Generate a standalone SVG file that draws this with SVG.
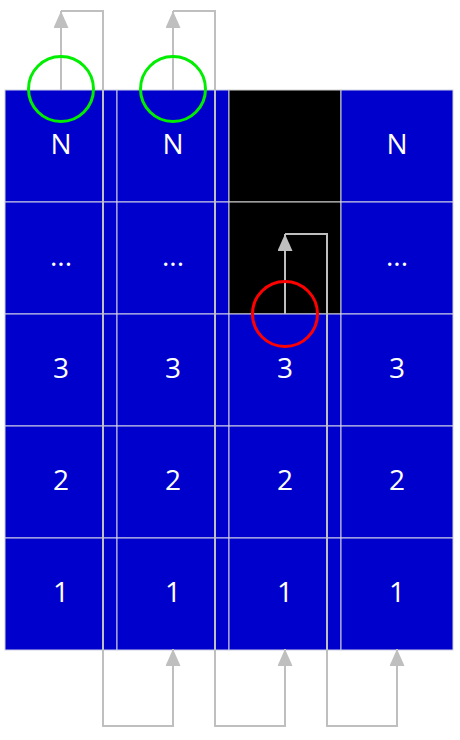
<svg xmlns="http://www.w3.org/2000/svg" width="460" height="740" viewBox="0 0 460 740">
<style>
.cell{fill:#0000CC;stroke:#D0D0E6;stroke-width:1}
.empty{fill:#000000;stroke:#D0D0D0;stroke-width:1}
.lbl{font-family:"Open Sans","Liberation Sans",sans-serif;font-size:28px;fill:#FFFFFF;text-anchor:middle}
.conn{fill:none;stroke:#BFBFBF;stroke-width:2}
.ok{fill:none;stroke:#00EE00;stroke-width:3}
.bad{fill:none;stroke:#FF0000;stroke-width:3}
</style>
<defs>
<marker id="arr" markerUnits="userSpaceOnUse" markerWidth="17" markerHeight="15" refX="17" refY="7.5" orient="auto">
<path d="M0,0 L17,7.5 L0,15 Z" fill="#BFBFBF"/>
</marker>
</defs>
<rect x="0" y="0" width="460" height="740" fill="#FFFFFF"/>
<g id="col1">
<g id="c1r5"><rect class="cell" x="5" y="90" width="112" height="112"/><text class="lbl" x="61" y="154">N</text></g>
<g id="c1r4"><rect class="cell" x="5" y="202" width="112" height="112"/><text class="lbl" x="61" y="266">...</text></g>
<g id="c1r3"><rect class="cell" x="5" y="314" width="112" height="112"/><text class="lbl" x="61" y="378">3</text></g>
<g id="c1r2"><rect class="cell" x="5" y="426" width="112" height="112"/><text class="lbl" x="61" y="490">2</text></g>
<g id="c1r1"><rect class="cell" x="5" y="538" width="112" height="112"/><text class="lbl" x="61" y="602">1</text></g>
</g>
<g id="col2">
<g id="c2r5"><rect class="cell" x="117" y="90" width="112" height="112"/><text class="lbl" x="173" y="154">N</text></g>
<g id="c2r4"><rect class="cell" x="117" y="202" width="112" height="112"/><text class="lbl" x="173" y="266">...</text></g>
<g id="c2r3"><rect class="cell" x="117" y="314" width="112" height="112"/><text class="lbl" x="173" y="378">3</text></g>
<g id="c2r2"><rect class="cell" x="117" y="426" width="112" height="112"/><text class="lbl" x="173" y="490">2</text></g>
<g id="c2r1"><rect class="cell" x="117" y="538" width="112" height="112"/><text class="lbl" x="173" y="602">1</text></g>
</g>
<g id="col3">
<g id="c3r5"><rect class="empty" x="229" y="90" width="112" height="112"/></g>
<g id="c3r4"><rect class="empty" x="229" y="202" width="112" height="112"/></g>
<g id="c3r3"><rect class="cell" x="229" y="314" width="112" height="112"/><text class="lbl" x="285" y="378">3</text></g>
<g id="c3r2"><rect class="cell" x="229" y="426" width="112" height="112"/><text class="lbl" x="285" y="490">2</text></g>
<g id="c3r1"><rect class="cell" x="229" y="538" width="112" height="112"/><text class="lbl" x="285" y="602">1</text></g>
</g>
<g id="col4">
<g id="c4r5"><rect class="cell" x="341" y="90" width="112" height="112"/><text class="lbl" x="397" y="154">N</text></g>
<g id="c4r4"><rect class="cell" x="341" y="202" width="112" height="112"/><text class="lbl" x="397" y="266">...</text></g>
<g id="c4r3"><rect class="cell" x="341" y="314" width="112" height="112"/><text class="lbl" x="397" y="378">3</text></g>
<g id="c4r2"><rect class="cell" x="341" y="426" width="112" height="112"/><text class="lbl" x="397" y="490">2</text></g>
<g id="c4r1"><rect class="cell" x="341" y="538" width="112" height="112"/><text class="lbl" x="397" y="602">1</text></g>
</g>
<g id="connectors">
<path class="conn" d="M61,90 V11" marker-end="url(#arr)"/>
<path class="conn" d="M61,11 H103 V726 H173 V649" marker-end="url(#arr)"/>
<path class="conn" d="M173,90 V11" marker-end="url(#arr)"/>
<path class="conn" d="M173,11 H215 V726 H285 V649" marker-end="url(#arr)"/>
<path class="conn" d="M285,314 V234" marker-end="url(#arr)"/>
<path class="conn" d="M285,234 H327 V726 H397 V649" marker-end="url(#arr)"/>
</g>
<g id="markers">
<circle id="ok1" class="ok" cx="61" cy="89" r="32.5"/>
<circle id="ok2" class="ok" cx="173" cy="89" r="32.5"/>
<circle id="bad1" class="bad" cx="285" cy="314" r="32.5"/>
</g>
</svg>
